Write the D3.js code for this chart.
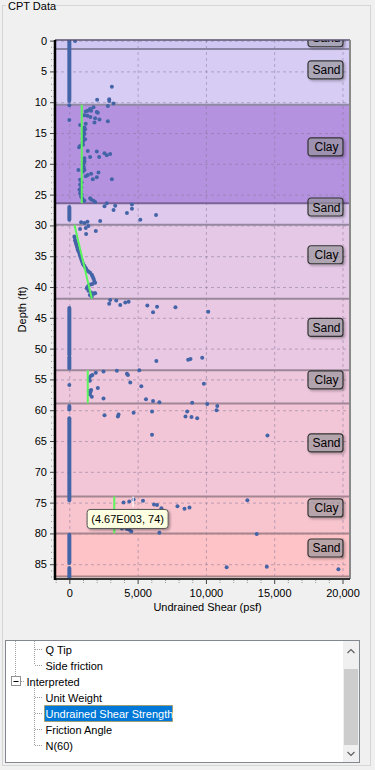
<!DOCTYPE html>
<html>
<head>
<meta charset="UTF-8">
<title>CPT Data</title>
<style>
  body { margin: 0; background: #f0f0f0; }
  svg { display: block; font-family: 'Liberation Sans', Arial, sans-serif; }
</style>
</head>
<body>
<svg></svg>
<script src="https://d3js.org/d3.v7.min.js"></script>
<script>
// soil layers (depth in ft)
const layerTop = [0, 1.35, 10.4, 26.4, 29.9, 41.9, 53.5, 58.9, 74, 80];
const layerBottom = [1.35, 10.4, 26.4, 29.9, 41.9, 53.5, 58.9, 74, 80, 87];
const layerSoil = ["Sand", "Sand", "Clay", "Sand", "Clay", "Sand", "Clay", "Sand", "Clay", "Sand"];

const xTicks = [0, 5000, 10000, 15000, 20000];
const yTicks = [0, 5, 10, 15, 20, 25, 30, 35, 40, 45, 50, 55, 60, 65, 70, 75, 80, 85];

// fitted Su lines in the clay layers
const trendTop = [10.4, 29.9, 53.5, 74];
const trendBottom = [26.4, 41.9, 58.9, 80];
const trendSuTop = [910, 370, 1350, 3290];
const trendSuBottom = [910, 1650, 1350, 3290];

// depth runs where Su reads 0 (sand)
const zeroRuns = [[0, 9.5], [27.0, 29.1], [43.4, 51.0], [51.4, 53.2], [59.3, 59.9],
  [61.3, 74.6], [80.2, 84.8], [85.6, 87.4]];

// [Su (psf), depth (ft)]
const shearUpper = [[420, 0.05], [0, 9.8], [0, 10.5], [0, 12.9],
  [3115, 7.5], [2036, 9.6], [2920, 9.5], [2920, 9.8], [3235, 10.2], [2820, 10.6],
  [1767, 10.8], [1522, 11.1], [1350, 11.4], [1203, 11.5], [1595, 11.4], [2011, 11.6], [2085, 11.7],
  [1105, 12.1], [1325, 12.2], [1546, 12.4], [1890, 12.6], [2207, 12.8], [1840, 13.3], [2820, 13.1],
  [1203, 13.5], [787, 13.7], [1105, 14.1], [1154, 14.4], [1056, 14.8], [1105, 15.1], [1007, 15.7],
  [1154, 16.0], [787, 17.1], [713, 17.3], [1350, 17.9], [2011, 18.0], [2575, 18.3], [2746, 18.6],
  [2990, 18.4], [1105, 19.1], [1522, 18.9], [2183, 18.9], [1000, 14.5], [1050, 15.3], [980, 15.9],
  [1020, 16.3], [960, 16.6], [1000, 16.9], [1080, 19.8], [1020, 20.2], [1060, 20.8], [980, 21.3],
  [1105, 19.6], [1056, 20.5], [1105, 21.0], [664, 21.0], [1350, 21.8], [1595, 21.6], [1203, 22.0],
  [2134, 21.4], [2011, 22.2], [1718, 22.5], [3114, 22.5], [787, 22.6], [787, 23.4], [738, 24.2],
  [787, 24.8], [860, 25.3], [900, 23.0], [880, 23.8], [860, 24.5], [900, 25.0], [950, 25.6],
  [1000, 25.9], [1105, 26.0], [1522, 25.6], [1595, 25.8], [1767, 26.0], [1890, 26.2]];

const shearMiddle = [[2746, 26.4], [2575, 26.9], [3359, 26.8], [3236, 27.5], [4216, 28.0], [4584, 26.6],
  [4584, 27.3], [5196, 29.1], [6348, 28.3], [2257, 29.3],
  [860, 29.5], [1105, 29.6], [1326, 29.4], [1399, 30.1], [1203, 30.4], [787, 30.6], [1938, 30.9],
  [1228, 31.4], [370, 31.8], [419, 32.4], [493, 32.9], [541, 33.3], [615, 33.9], [713, 34.4],
  [811, 35.1], [909, 35.7], [1007, 36.3], [1154, 36.8], [1301, 37.3], [1522, 37.7], [1644, 38.0],
  [1767, 38.6], [1890, 39.3], [1693, 39.5], [1399, 39.8], [1277, 40.2], [1399, 40.6], [1595, 40.9],
  [1767, 41.1], [1644, 41.6], [400, 32.0], [450, 32.6], [520, 33.1], [580, 33.6], [650, 34.1],
  [760, 34.8], [860, 35.4], [960, 36.0], [1080, 36.5], [1220, 37.0], [1400, 37.5], [1700, 38.3],
  [1820, 39.0], [1550, 39.6], [1330, 40.0], [1850, 41.0], [1500, 41.3], [1890, 41.0],
  [2992, 42.1], [3433, 42.2], [2918, 42.7], [3727, 42.9], [4094, 42.5], [4339, 42.4], [5711, 43.0],
  [6422, 43.2], [7769, 43.3], [6128, 44.1], [10170, 44.0], [6372, 52.0], [8700, 51.8], [8872, 51.7],
  [9729, 51.5]];

const shearLower = [[1473, 54.7], [1595, 54.4], [1693, 54.3], [1938, 53.9], [2501, 53.7], [3481, 53.6],
  [4216, 54.1], [4290, 54.3], [5123, 53.5], [4461, 55.5], [5270, 56.1], [2085, 56.4], [1595, 56.7],
  [1522, 57.2], [1644, 57.8], [2501, 58.1], [0, 55.9], [9851, 55.7], [1450, 55.0], [1500, 55.2],
  [1420, 56.9], [1470, 57.4], [1550, 57.0],
  [5613, 58.2], [6128, 58.5], [6593, 58.7], [8994, 58.8], [10097, 59.0], [10832, 59.3], [10783, 60.0],
  [2575, 60.8], [3604, 60.7], [3555, 61.0], [4706, 60.4], [6054, 60.2], [8627, 60.2], [8504, 61.0],
  [8945, 61.1], [9361, 61.3], [6054, 64.0], [14507, 64.1],
  [3971, 75.0], [4388, 74.8], [4706, 74.5], [5393, 74.7], [6201, 75.3], [6422, 75.4], [6740, 75.9],
  [7916, 75.6], [8431, 76.0], [8798, 75.8], [13036, 74.6], [3849, 79.2], [4216, 79.3], [4388, 79.4],
  [4535, 79.7], [6593, 79.9], [13722, 80.1],
  [11518, 85.5], [14457, 85.4], [19700, 85.8]];

// hovered point
const tipSu = 4670, tipDepth = 74;

const treeLabels = ["Q Tip", "Side friction", "Interpreted", "Unit Weight",
  "Undrained Shear Strength", "Friction Angle", "N(60)"];
const treeLevel = [2, 2, 1, 2, 2, 2, 2];
const treeSelected = "Undrained Shear Strength";

const bandColors = ["#d0c7f3", "#d7cdf4", "#b492df", "#dfcaee", "#e5c8e6",
  "#e9c8e3", "#eec7dc", "#f2c6d6", "#f8c5cf", "#fdc3c6"];

const W = 375, H = 770;
const margin = { left: 55, right: 25, top: 40, bottom: 191 };

const svg = d3.select("svg").attr("width", W).attr("height", H);

const x = d3.scaleLinear().domain([-1050, 20550]).range([margin.left, W - margin.right]);
const y = d3.scaleLinear().domain([-0.1, 87.4]).range([margin.top, H - margin.bottom]);
const band = d3.scaleOrdinal().domain(d3.range(layerTop.length)).range(bandColors);

const defs = svg.append("defs");
defs.append("clipPath").attr("id", "plotclip")
  .append("rect")
  .attr("x", x.range()[0]).attr("y", y.range()[0])
  .attr("width", x.range()[1] - x.range()[0]).attr("height", y.range()[1] - y.range()[0]);
const shadow = defs.append("filter").attr("id", "shadow")
  .attr("x", "-20%").attr("y", "-20%").attr("width", "150%").attr("height", "160%");
shadow.append("feDropShadow").attr("dx", 1.5).attr("dy", 1.5).attr("stdDeviation", 1)
  .attr("flood-color", "#000").attr("flood-opacity", 0.35);

// group box
svg.append("rect").attr("x", 2.5).attr("y", 5.5).attr("width", 368).attr("height", 760)
  .attr("fill", "none").attr("stroke", "#d5d5d5");
svg.append("rect").attr("x", 6).attr("y", 0).attr("width", 48).attr("height", 12).attr("fill", "#f0f0f0");
svg.append("text").attr("x", 8).attr("y", 10).attr("font-size", 11).attr("fill", "#000").text("CPT Data");

const plot = svg.append("g").attr("clip-path", "url(#plotclip)");
const layers = d3.range(layerTop.length);

plot.selectAll("rect.band").data(layers).enter().append("rect")
  .attr("class", "band")
  .attr("x", x.range()[0]).attr("width", x.range()[1] - x.range()[0])
  .attr("y", i => y(layerTop[i])).attr("height", i => y(layerBottom[i]) - y(layerTop[i]))
  .attr("fill", i => band(i));

// dashed grid
plot.selectAll("line.gx").data(xTicks).enter().append("line")
  .attr("x1", d => x(d) + 0.5).attr("x2", d => x(d) + 0.5)
  .attr("y1", y.range()[0]).attr("y2", y.range()[1])
  .attr("stroke", "#8a7a9a").attr("stroke-opacity", 0.55).attr("stroke-dasharray", "3,3");
plot.selectAll("line.gy").data(yTicks).enter().append("line")
  .attr("y1", d => y(d) + 0.5).attr("y2", d => y(d) + 0.5)
  .attr("x1", x.range()[0]).attr("x2", x.range()[1])
  .attr("stroke", "#8a7a9a").attr("stroke-opacity", 0.55).attr("stroke-dasharray", "3,3");

// layer boundaries
plot.selectAll("line.bound").data(layers).enter().append("line")
  .attr("x1", x.range()[0]).attr("x2", x.range()[1])
  .attr("y1", i => y(layerBottom[i])).attr("y2", i => y(layerBottom[i]))
  .attr("stroke", i => d3.color(band(i)).darker(1.1)).attr("stroke-width", 2);

// data
const dotColor = "#4464a8";
plot.selectAll("line.zero").data(zeroRuns).enter().append("line")
  .attr("x1", x(0)).attr("x2", x(0))
  .attr("y1", d => y(d[0])).attr("y2", d => y(d[1]))
  .attr("stroke", dotColor).attr("stroke-width", 4).attr("stroke-linecap", "round");
plot.selectAll("circle.pt").data(shearUpper.concat(shearMiddle, shearLower)).enter().append("circle")
  .attr("cx", d => x(d[0])).attr("cy", d => y(d[1])).attr("r", 2)
  .attr("fill", dotColor);

// fitted lines
plot.selectAll("line.trend").data(trendTop).enter().append("line")
  .attr("x1", (d, i) => x(trendSuTop[i])).attr("x2", (d, i) => x(trendSuBottom[i]))
  .attr("y1", d => y(d)).attr("y2", (d, i) => y(trendBottom[i]))
  .attr("stroke", "#5cf55c").attr("stroke-width", 2);

// soil labels
const lab = plot.selectAll("g.lab").data(layers).enter().append("g")
  .attr("transform", i => `translate(${x.range()[1] - 42},${(y(layerTop[i]) + y(layerBottom[i])) / 2 - 16})`);
lab.append("rect").attr("width", 35).attr("height", 18).attr("rx", 3)
  .attr("fill", "#9a9aa0").attr("fill-opacity", 0.55)
  .attr("stroke", "#333").attr("stroke-width", 1.2)
  .attr("filter", "url(#shadow)");
lab.append("text").attr("x", 18.5).attr("y", 13.5).attr("text-anchor", "middle")
  .attr("font-size", 12).attr("fill", "#000").text(i => layerSoil[i]);

// cursor mark + tooltip
plot.append("line").attr("x1", x(tipSu)).attr("x2", x(tipSu))
  .attr("y1", y(tipDepth)).attr("y2", y(tipDepth + 1.7))
  .attr("stroke", "#fff").attr("stroke-opacity", 0.8).attr("stroke-width", 1.5);
const tip = svg.append("g").attr("transform", `translate(${x(tipSu) - 46},${y(tipDepth) + 13})`);
tip.append("rect").attr("width", 81).attr("height", 19).attr("rx", 3)
  .attr("fill", "#ffffe1").attr("stroke", "#555").attr("filter", "url(#shadow)");
tip.append("text").attr("x", 40.5).attr("y", 13.5).attr("text-anchor", "middle")
  .attr("font-size", 11).attr("fill", "#000").text("(" + d3.format(".2f")(tipSu / 1000) + "E003, " + tipDepth + ")");

// frame
const fr = svg.append("g");
fr.append("line").attr("x1", x.range()[0]).attr("x2", x.range()[1]).attr("y1", y.range()[0]).attr("y2", y.range()[0])
  .attr("stroke", "#5a5070").attr("stroke-width", 1.5);
fr.append("line").attr("x1", x.range()[1]).attr("x2", x.range()[1]).attr("y1", y.range()[0]).attr("y2", y.range()[1])
  .attr("stroke", "#8a8a8a").attr("stroke-width", 2);
fr.append("line").attr("x1", x.range()[0]).attr("x2", x.range()[1]).attr("y1", y.range()[1]).attr("y2", y.range()[1])
  .attr("stroke", "#333").attr("stroke-width", 2);
fr.append("line").attr("x1", x.range()[0]).attr("x2", x.range()[0]).attr("y1", y.range()[0]).attr("y2", y.range()[1] + 1)
  .attr("stroke", "#000").attr("stroke-width", 2.5);

// axes
const yMinor = d3.range(0, 88, 1).filter(d => d % 5 !== 0);
const xMinor = d3.range(-1000, 20001, 1000).filter(d => d % 5000 !== 0);

svg.append("g").attr("transform", `translate(${x.range()[0] - 1},0)`)
  .call(d3.axisLeft(y).tickValues(yMinor).tickSize(3).tickFormat(""))
  .call(g => g.select(".domain").remove())
  .call(g => g.selectAll("line").attr("stroke", "#999").attr("stroke-dasharray", "1,1"));
svg.append("g").attr("transform", `translate(${x.range()[0] - 1},0)`)
  .call(d3.axisLeft(y).tickValues(yTicks).tickSize(4).tickPadding(3))
  .call(g => g.select(".domain").remove())
  .call(g => g.selectAll("line").attr("stroke", "#444"))
  .call(g => g.selectAll("text").attr("font-size", 11).attr("font-family", "'Liberation Sans', Arial, sans-serif").attr("fill", "#000"));

svg.append("g").attr("transform", `translate(0,${y.range()[1] + 1})`)
  .call(d3.axisBottom(x).tickValues(xMinor).tickSize(3).tickFormat(""))
  .call(g => g.select(".domain").remove())
  .call(g => g.selectAll("line").attr("stroke", "#999").attr("stroke-dasharray", "1,1"));
svg.append("g").attr("transform", `translate(0,${y.range()[1] + 1})`)
  .call(d3.axisBottom(x).tickValues(xTicks).tickSize(4).tickPadding(5).tickFormat(d3.format(",")))
  .call(g => g.select(".domain").remove())
  .call(g => g.selectAll("line").attr("stroke", "#444"))
  .call(g => g.selectAll("text").attr("font-size", 11).attr("font-family", "'Liberation Sans', Arial, sans-serif").attr("fill", "#000"));

svg.append("text").attr("transform", `translate(26,${(y.range()[0] + y.range()[1]) / 2}) rotate(-90)`)
  .attr("text-anchor", "middle").attr("font-size", 11).text("Depth (ft)");
svg.append("text").attr("x", (x.range()[0] + x.range()[1]) / 2 + 5).attr("y", 611)
  .attr("text-anchor", "middle").attr("font-size", 11).text("Undrained Shear (psf)");

// tree view
const tree = svg.append("g");
tree.append("rect").attr("x", 5.5).attr("y", 640.5).attr("width", 354).attr("height", 122)
  .attr("fill", "#fff").attr("stroke", "#828790");
tree.append("rect").attr("x", 343).attr("y", 641).attr("width", 16).attr("height", 121).attr("fill", "#f0f0f0");
tree.append("rect").attr("x", 344).attr("y", 669).attr("width", 14).attr("height", 76).attr("fill", "#cdcdcd");
tree.append("path").attr("d", "M347.5,653 L351,649.5 L354.5,653").attr("fill", "none").attr("stroke", "#606060").attr("stroke-width", 1.2);
tree.append("path").attr("d", "M347.5,752 L351,755.5 L354.5,752").attr("fill", "none").attr("stroke", "#606060").attr("stroke-width", 1.2);

const rowY = i => 649 + i * 16;
const dotted = { stroke: "#a0a0a0", "stroke-dasharray": "1,1" };
const dline = (x1, y1, x2, y2) => {
  const l = tree.append("line").attr("x1", x1).attr("y1", y1).attr("x2", x2).attr("y2", y2);
  Object.entries(dotted).forEach(([k, v]) => l.attr(k, v));
};
const parentIdx = treeLevel.indexOf(1);
dline(15.5, 641, 15.5, rowY(parentIdx) - 5);
dline(34.5, 641, 34.5, rowY(parentIdx - 1));
dline(34.5, rowY(parentIdx) + 5, 34.5, rowY(treeLabels.length - 1));
dline(21, rowY(parentIdx) + 0.5, 25, rowY(parentIdx) + 0.5);
treeLabels.forEach((t, i) => {
  if (treeLevel[i] === 2) dline(35, rowY(i) + 0.5, 43, rowY(i) + 0.5);
});
tree.append("rect").attr("x", 11.5).attr("y", rowY(parentIdx) - 4.5).attr("width", 9).attr("height", 9)
  .attr("fill", "#fff").attr("stroke", "#919191");
tree.append("line").attr("x1", 13.5).attr("x2", 18.5).attr("y1", rowY(parentIdx) + 0.5).attr("y2", rowY(parentIdx) + 0.5)
  .attr("stroke", "#000");

const selIdx = treeLabels.indexOf(treeSelected);
tree.append("rect").attr("x", 44.5).attr("y", rowY(selIdx) - 7.5).attr("width", 128).attr("height", 16)
  .attr("fill", "#0078d7").attr("stroke", "#c08000").attr("stroke-dasharray", "1,1");
tree.selectAll("text.item").data(treeLabels).enter().append("text")
  .attr("x", (d, i) => treeLevel[i] === 1 ? 26.5 : 45.5)
  .attr("y", (d, i) => rowY(i) + 4.5)
  .attr("font-size", 11)
  .attr("fill", d => d === treeSelected ? "#fff" : "#000")
  .text(d => d);
</script>
</body>
</html>
